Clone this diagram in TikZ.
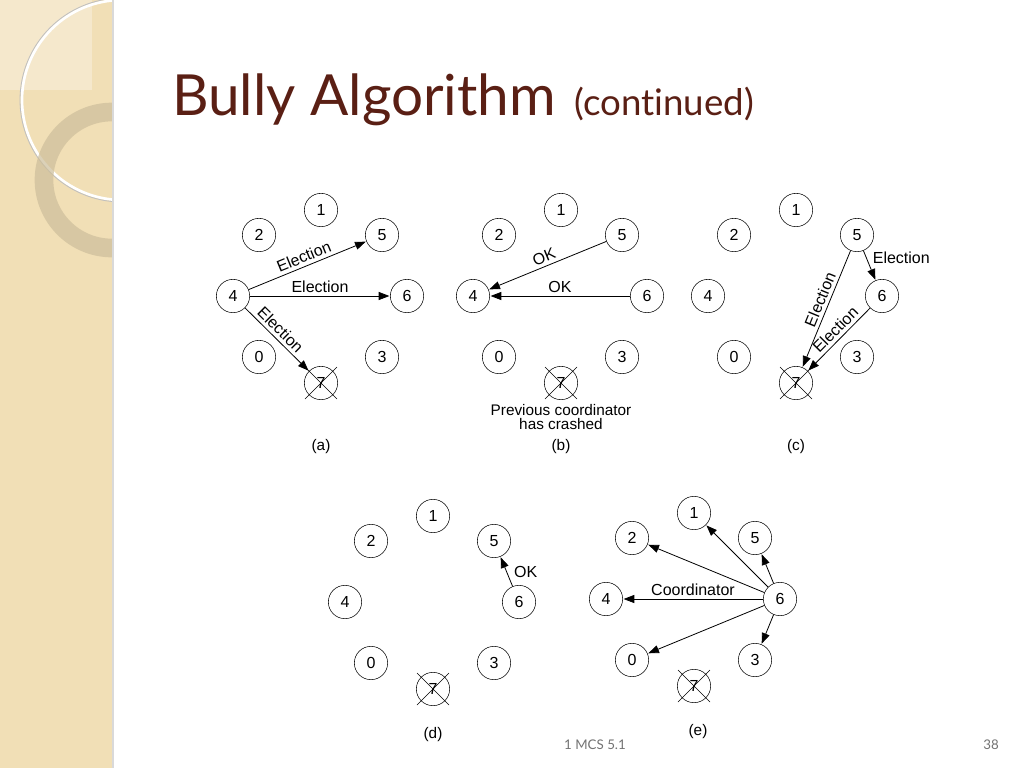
\documentclass[tikz,border=0pt]{standalone}
\usepackage{fontspec}
\setmainfont{Liberation Sans}
\newfontfamily\titlefont[Ligatures=NoCommon]{Lato}
\usetikzlibrary{arrows.meta}
\definecolor{strip}{HTML}{F1DFB6}
\definecolor{titlec}{HTML}{5A1F14}
\tikzset{
  pnode/.style={draw,circle,minimum size=25pt,inner sep=0pt,font=\fontsize{12}{14}\selectfont},
  msg/.style={-{Triangle[length=8pt,width=6pt]},line width=0.6pt,shorten >=0.5pt},
  lbl/.style={font=\fontsize{12}{14}\selectfont,inner sep=2.5pt},
  captxt/.style={font=\fontsize{11.5}{13}\selectfont}
}
\newcommand\ring[3]{%
  \begin{scope}[shift={(#2,#3)}]
  \node[pnode] (#1n1) at (0,0) {1};
  \node[pnode] (#1n2) at (-62,25) {2};
  \node[pnode] (#1n5) at (61,25) {5};
  \node[pnode] (#1n4) at (-88,86) {4};
  \node[pnode] (#1n6) at (86,86) {6};
  \node[pnode] (#1n0) at (-62,147) {0};
  \node[pnode] (#1n3) at (61,147) {3};
  \node[pnode] (#1n7) at (0,173) {7};
  \draw[line width=0.5pt] (#1n7) ++(-16,-16) -- ++(32,32);
  \draw[line width=0.5pt] (#1n7) ++(16,-16) -- ++(-32,32);
  \end{scope}}
\begin{document}
\begin{tikzpicture}[x=0.75pt,y=-0.75pt]
\useasboundingbox (0,0) rectangle (1024,768);
\fill[white] (0,0) rectangle (1024,768);
% left decoration
\begin{scope}
\clip (0,0) rectangle (112,768);
\fill[strip] (0,0) rectangle (112,768);
\fill[white,opacity=0.3] (0,0) rectangle (92,90);
\draw[white,line width=2pt] (122,100) circle (100);
\draw[black!25,line width=0.6pt] (122,100) circle (102);
\draw[line width=14pt,color=black!15!strip,opacity=0.7] (112,180) circle (68);
\end{scope}
\draw[black!15,line width=1.5pt] (113,0) -- (113,768);
% title
\node[anchor=base west,text=titlec,inner sep=0] (title) at (172,115) {\titlefont\fontsize{42.5}{46}\selectfont Bully Algorithm\hspace{14pt}\fontsize{27.5}{30}\selectfont (continued)};
% rings
\ring{a}{321}{210}
\ring{b}{561}{210}
\ring{c}{796}{210}
\ring{d}{433}{516}
\ring{e}{694}{513}
% (a)
\draw[msg] (an4) -- node[lbl,sloped,above] {Election} (an5);
\draw[msg] (an4) -- node[lbl,above] {Election} (an6);
\draw[msg] (an4) -- node[lbl,sloped,above,pos=0.45] {Election} (an7);
\node[captxt] (ca) at (321,447) {(a)};
% (b)
\draw[msg] (bn5) -- node[lbl,sloped,above] {OK} (bn4);
\draw[msg] (bn6) -- node[lbl,above] {OK} (bn4);
\node[captxt,align=center] (prev) at (561,417) {Previous coordinator\\[-2pt]has crashed};
\node[captxt] (cb) at (561,447) {(b)};
% (c)
\draw[msg] (cn5) -- node[lbl,sloped,above,pos=0.45] {Election} (cn7);
\draw[msg] (cn5) -- node[lbl,right,pos=0.25,xshift=2pt] {Election} (cn6);
\draw[msg] (cn6) -- node[lbl,sloped,above,pos=0.45] {Election} (cn7);
\node[captxt] (cc) at (796,447) {(c)};
% (d)
\draw[msg] (dn6) -- node[lbl,right,xshift=3pt] {OK} (dn5);
\node[captxt] (cd) at (433,735) {(d)};
% (e)
\draw[msg] (en6) -- (en2);
\draw[msg] (en6) -- (en1);
\draw[msg] (en6) -- (en5);
\draw[msg] (en6) -- node[lbl,above] {Coordinator} (en4);
\draw[msg] (en6) -- (en0);
\draw[msg] (en6) -- (en3);
\node[captxt] (ce) at (698,732) {(e)};
% footer
\node[text=black!55,font=\fontsize{10}{12}\selectfont\titlefont] (foot) at (595,745) {1 MCS 5.1};
\node[text=black!55,font=\fontsize{10}{12}\selectfont\titlefont] (pg) at (991,745) {38};
\end{tikzpicture}
\end{document}
